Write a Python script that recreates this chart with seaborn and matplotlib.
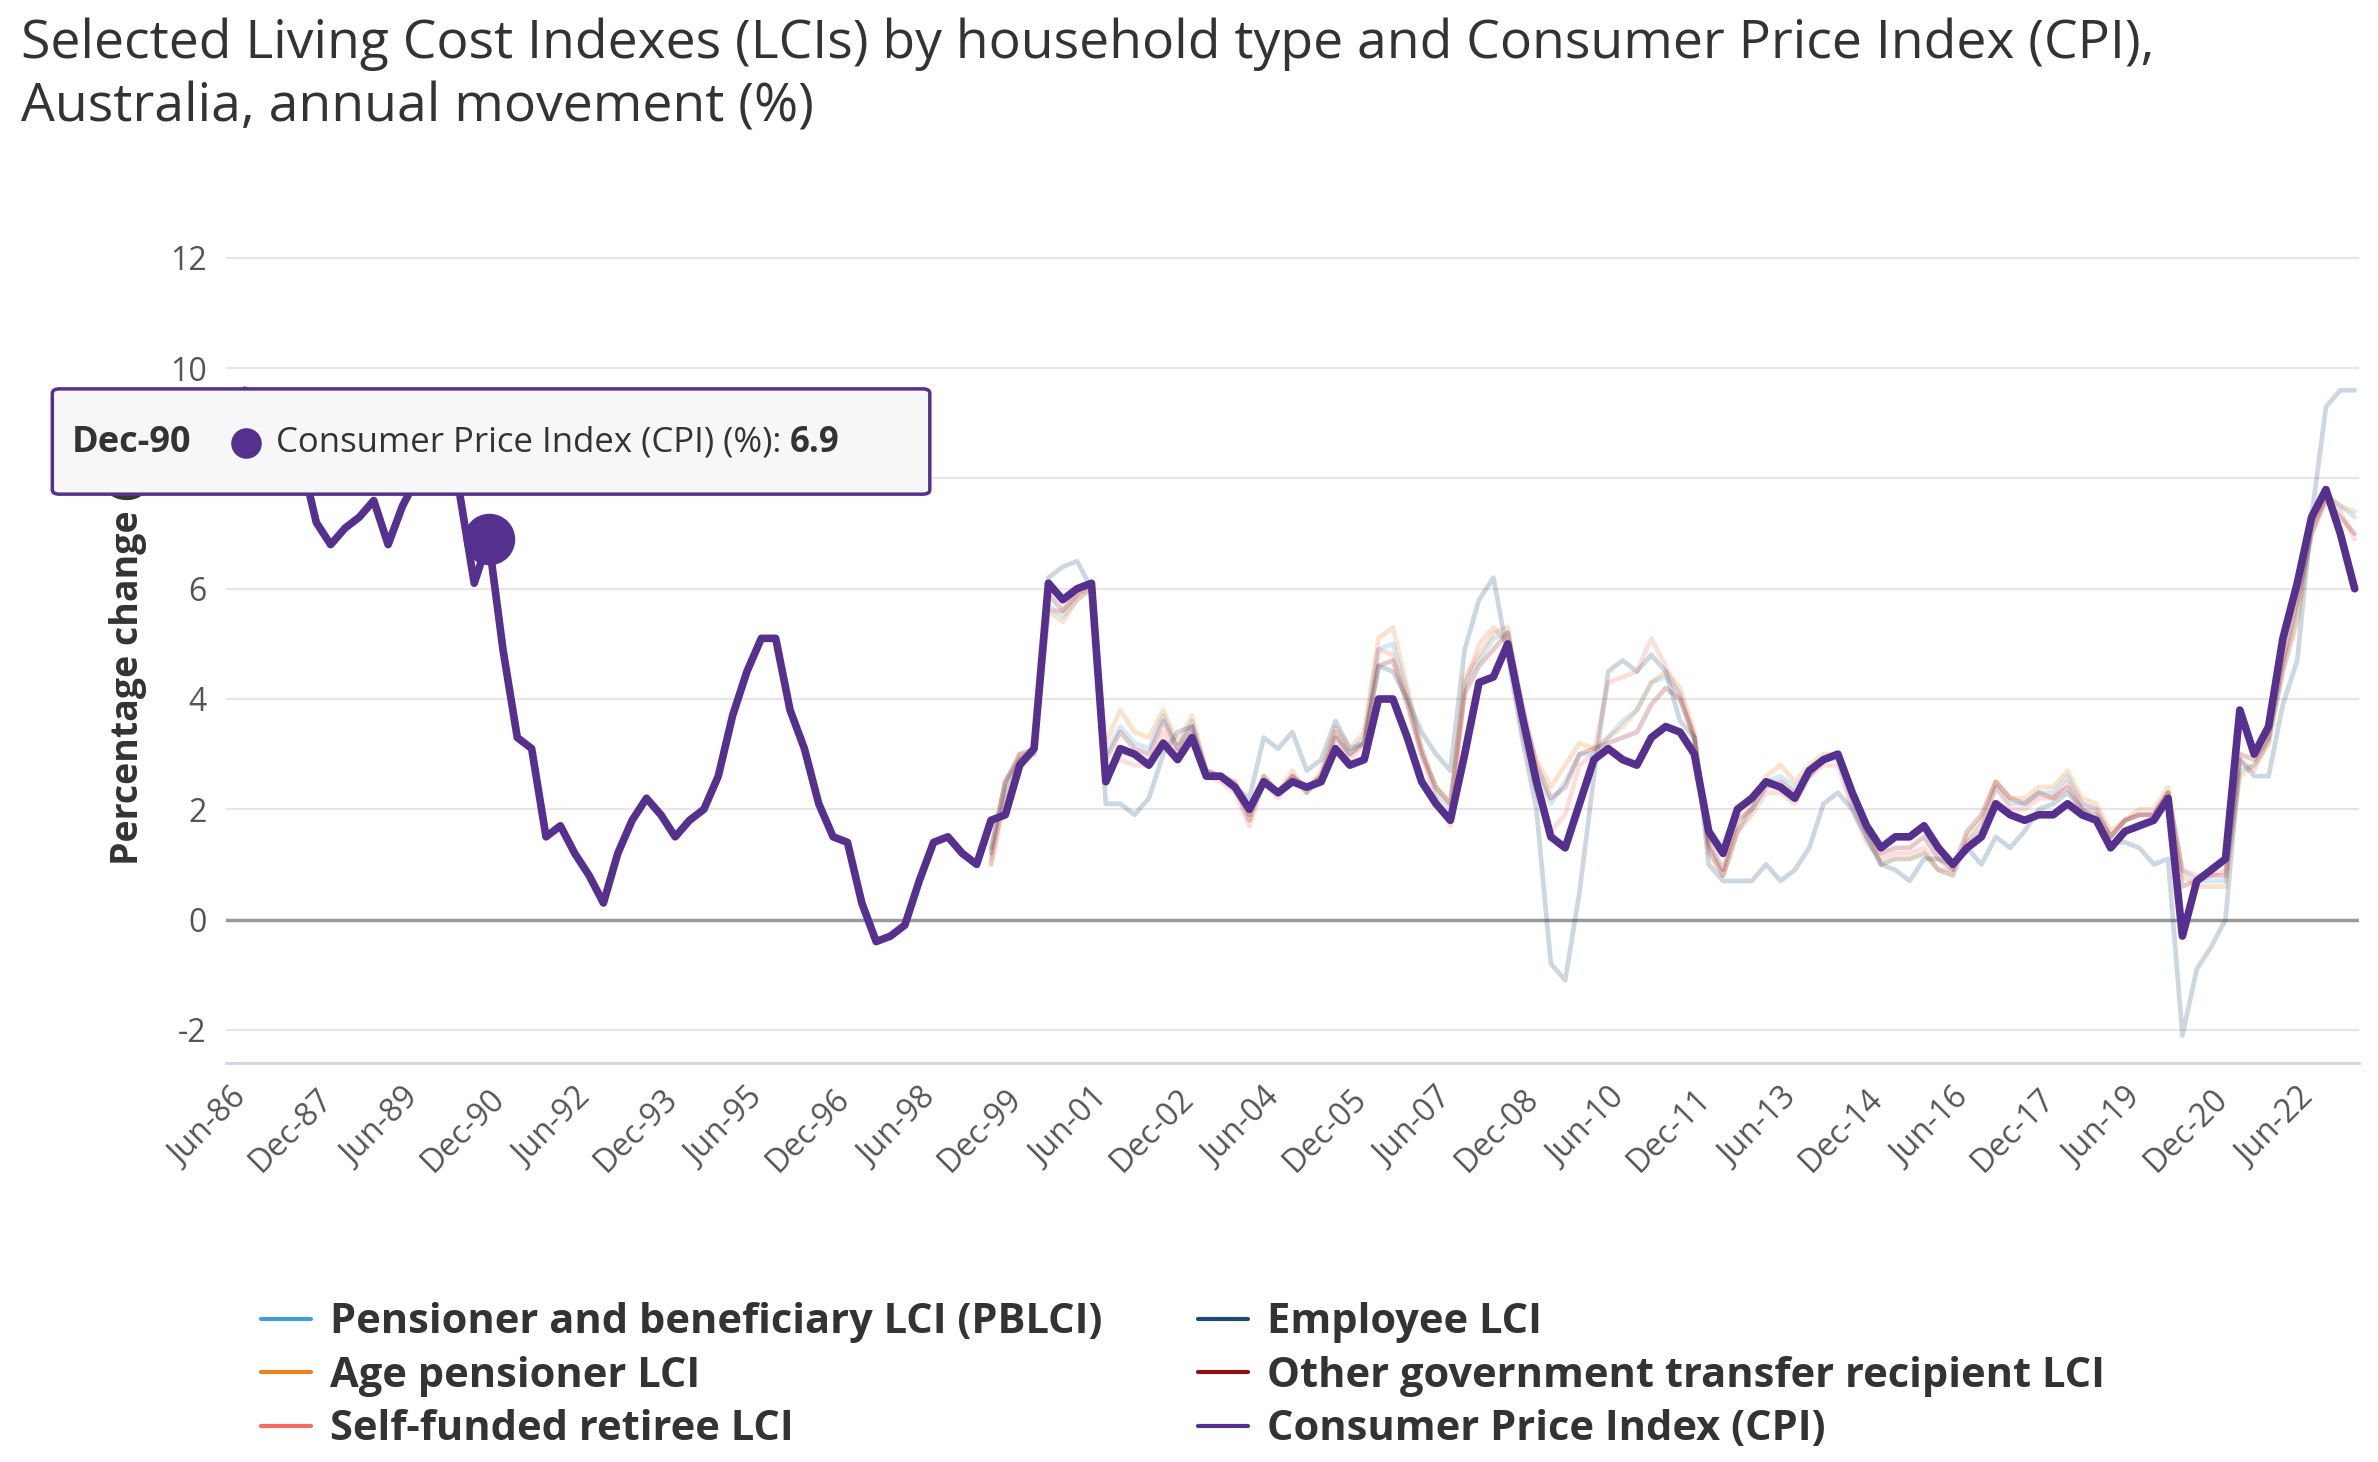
import matplotlib
matplotlib.use("Agg")
import matplotlib.pyplot as plt
import seaborn as sns
import pandas as pd
from matplotlib.lines import Line2D
from matplotlib.patches import FancyBboxPatch

# quarterly, Jun-86 .. Jun-23
cpi = [8.4, 9.6, 9.5,
       9.4, 9.3, 8.3, 7.2, 6.8, 7.1, 7.3, 7.6, 6.8, 7.5, 8.0, 7.8,
       8.6, 7.7, 6.1, 6.9, 4.9, 3.3, 3.1, 1.5, 1.7, 1.2, 0.8, 0.3,
       1.2, 1.8, 2.2, 1.9, 1.5, 1.8, 2.0, 2.6, 3.7, 4.5, 5.1, 5.1,
       3.8, 3.1, 2.1, 1.5, 1.4, 0.3, -0.4, -0.3, -0.1, 0.7, 1.4, 1.5,
       1.2, 1.0, 1.8, 1.9, 2.8, 3.1, 6.1, 5.8, 6.0, 6.1, 2.5, 3.1,
       3.0, 2.8, 3.2, 2.9, 3.3, 2.6, 2.6, 2.4, 2.0, 2.5, 2.3, 2.5,
       2.4, 2.5, 3.1, 2.8, 2.9, 4.0, 4.0, 3.3, 2.5, 2.1, 1.8, 3.0,
       4.3, 4.4, 5.0, 3.7, 2.5, 1.5, 1.3, 2.1, 2.9, 3.1, 2.9, 2.8,
       3.3, 3.5, 3.4, 3.0, 1.6, 1.2, 2.0, 2.2, 2.5, 2.4, 2.2, 2.7,
       2.9, 3.0, 2.3, 1.7, 1.3, 1.5, 1.5, 1.7, 1.3, 1.0, 1.3, 1.5,
       2.1, 1.9, 1.8, 1.9, 1.9, 2.1, 1.9, 1.8, 1.3, 1.6, 1.7, 1.8,
       2.2, -0.3, 0.7, 0.9, 1.1, 3.8, 3.0, 3.5, 5.1, 6.1, 7.3, 7.8,
       7.0, 6.0]

# LCIs from Sep-99 .. Jun-23
lci_start = 53
employee = [1.3, 2.5, 2.9, 3.1, 6.2, 6.4, 6.5, 6.0, 2.1, 2.1, 1.9, 2.2,
            3.0, 3.4, 3.5, 2.6, 2.6, 2.4, 2.2, 3.3, 3.1, 3.4, 2.7, 2.9,
            3.6, 3.1, 3.2, 4.6, 4.5, 4.0, 3.4, 3.0, 2.7, 4.9, 5.8, 6.2,
            4.8, 3.3, 2.0, -0.8, -1.1, 0.5, 2.6, 4.5, 4.7, 4.5, 4.8, 4.5,
            3.6, 3.3, 1.0, 0.7, 0.7, 0.7, 1.0, 0.7, 0.9, 1.3, 2.1, 2.3,
            2.0, 1.5, 1.0, 0.9, 0.7, 1.1, 1.1, 1.0, 1.3, 1.0, 1.5, 1.3,
            1.6, 2.0, 2.1, 2.3, 2.0, 1.8, 1.4, 1.4, 1.3, 1.0, 1.1, -2.1,
            -0.9, -0.5, 0.0, 2.9, 2.6, 2.6, 3.9, 4.7, 7.3, 9.3, 9.6, 9.6]
age_pensioner = [1.0, 2.4, 3.0, 3.0, 5.6, 5.4, 5.8, 6.0, 3.2, 3.8, 3.4, 3.3,
                 3.8, 3.2, 3.7, 2.7, 2.6, 2.4, 1.8, 2.6, 2.3, 2.7, 2.3, 2.7,
                 3.5, 3.1, 3.4, 5.1, 5.3, 4.2, 3.1, 2.4, 2.1, 4.4, 4.8, 5.2,
                 5.3, 3.7, 2.9, 2.4, 2.8, 3.2, 3.1, 3.3, 3.5, 3.8, 4.3, 4.5,
                 4.2, 3.4, 1.3, 0.8, 1.6, 2.1, 2.6, 2.8, 2.5, 2.8, 3.0, 3.0,
                 2.2, 1.6, 1.0, 1.1, 1.1, 1.2, 0.9, 0.8, 1.5, 1.8, 2.5, 2.2,
                 2.2, 2.4, 2.4, 2.7, 2.2, 2.1, 1.6, 1.8, 2.0, 2.0, 2.4, 0.8,
                 0.6, 0.6, 0.6, 2.6, 2.8, 3.2, 4.5, 5.4, 7.0, 7.7, 7.5, 7.4]
self_funded = [1.0, 2.2, 2.8, 3.0, 5.6, 5.6, 5.9, 6.0, 2.7, 2.9, 2.8, 2.8,
               3.4, 3.0, 3.4, 2.6, 2.5, 2.3, 1.7, 2.5, 2.2, 2.6, 2.3, 2.6,
               3.4, 2.9, 3.2, 4.9, 4.8, 4.0, 3.0, 2.2, 1.7, 4.2, 5.0, 5.3,
               5.0, 3.4, 2.3, 1.6, 1.9, 2.8, 3.0, 4.3, 4.4, 4.5, 5.1, 4.6,
               4.0, 3.3, 1.2, 0.8, 1.6, 1.9, 2.3, 2.3, 2.1, 2.6, 2.8, 2.8,
               2.0, 1.4, 1.1, 1.2, 1.2, 1.3, 0.9, 0.9, 1.4, 1.6, 2.4, 2.0,
               2.0, 2.2, 2.2, 2.5, 2.1, 2.0, 1.5, 1.8, 1.9, 1.9, 2.3, 0.9,
               0.8, 0.8, 0.9, 2.9, 2.7, 3.3, 4.6, 5.7, 7.2, 7.6, 7.4, 6.9]
pblci = [1.1, 2.3, 2.9, 3.0, 5.7, 5.5, 5.8, 6.0, 3.0, 3.5, 3.2, 3.1,
         3.7, 3.1, 3.6, 2.7, 2.6, 2.4, 1.8, 2.5, 2.3, 2.6, 2.3, 2.6,
         3.4, 3.0, 3.3, 4.9, 5.0, 4.1, 3.1, 2.3, 2.0, 4.3, 4.7, 5.1,
         5.2, 3.6, 2.7, 2.1, 2.5, 3.0, 3.0, 3.3, 3.6, 3.8, 4.3, 4.4,
         4.1, 3.3, 1.3, 0.8, 1.6, 2.0, 2.5, 2.6, 2.4, 2.7, 2.9, 2.9,
         2.1, 1.5, 1.0, 1.1, 1.1, 1.2, 0.9, 0.8, 1.4, 1.7, 2.4, 2.1,
         2.1, 2.3, 2.3, 2.6, 2.1, 2.0, 1.5, 1.8, 1.9, 1.9, 2.3, 0.9,
         0.7, 0.7, 0.7, 2.7, 2.8, 3.2, 4.5, 5.5, 7.1, 7.7, 7.5, 7.3]
other_govt = [1.2, 2.5, 3.0, 3.1, 5.9, 5.6, 5.9, 6.1, 2.9, 3.4, 3.1, 3.0,
              3.6, 3.1, 3.5, 2.7, 2.6, 2.5, 1.9, 2.6, 2.3, 2.6, 2.4, 2.6,
              3.3, 3.0, 3.2, 4.6, 4.7, 3.9, 3.0, 2.4, 2.1, 4.1, 4.6, 4.9,
              5.2, 3.9, 2.8, 2.2, 2.4, 3.0, 3.1, 3.2, 3.3, 3.4, 3.9, 4.2,
              4.0, 3.3, 1.4, 0.9, 1.8, 2.0, 2.4, 2.5, 2.3, 2.6, 2.9, 3.0,
              2.3, 1.6, 1.2, 1.3, 1.3, 1.5, 1.1, 0.9, 1.6, 1.9, 2.5, 2.2,
              2.1, 2.3, 2.2, 2.4, 2.0, 1.9, 1.5, 1.8, 1.9, 1.9, 2.3, 0.6,
              0.7, 0.8, 0.8, 3.0, 2.9, 3.3, 4.7, 5.8, 7.0, 7.6, 7.3, 7.0]

tick_labels = ["Jun-86", "Dec-87", "Jun-89", "Dec-90", "Jun-92", "Dec-93",
               "Jun-95", "Dec-96", "Jun-98", "Dec-99", "Jun-01", "Dec-02",
               "Jun-04", "Dec-05", "Jun-07", "Dec-08", "Jun-10", "Dec-11",
               "Jun-13", "Dec-14", "Jun-16", "Dec-17", "Jun-19", "Dec-20",
               "Jun-22"]

faded = [("Pensioner and beneficiary LCI (PBLCI)", pblci, "#3f9fd9"),
         ("Age pensioner LCI", age_pensioner, "#e8831f"),
         ("Self-funded retiree LCI", self_funded, "#f26b5b"),
         ("Employee LCI", employee, "#1f4b73"),
         ("Other government transfer recipient LCI", other_govt, "#8c1015")]
cpi_color = "#55308f"

sns.set_theme(style="white")
plt.rcParams['font.family'] = ['Open Sans', 'DejaVu Sans']

fig = plt.figure(figsize=(23.78, 14.62), dpi=100)
ax = fig.add_axes([0.095, 0.273, 0.897, 0.56])

for name, vals, col in faded:
    df = pd.DataFrame({"q": range(lci_start, lci_start + len(vals)), "v": vals})
    sns.lineplot(data=df, x="q", y="v", ax=ax, color=col, alpha=0.22,
                 linewidth=3.4, legend=False)
cpi_df = pd.DataFrame({"q": range(len(cpi)), "v": cpi})
sns.lineplot(data=cpi_df, x="q", y="v", ax=ax, color=cpi_color,
             linewidth=5.5, legend=False, zorder=5)
hover = cpi_df.iloc[18]
ax.scatter([hover.q], [hover.v], s=1300, color=cpi_color, zorder=6)

ax.set_xlim(-0.3, len(cpi) - 0.7)
ax.set_ylim(-2.6, 12.25)
ax.set_yticks(range(-2, 13, 2))
ax.set_yticklabels([str(v) for v in range(-2, 13, 2)])
ax.set_xticks(range(0, 145, 6))
ax.set_xticklabels(tick_labels, rotation=45, ha="right",
                   rotation_mode="anchor")
ax.tick_params(axis="both", labelsize=23, colors="#555555", length=0, pad=14)
ax.yaxis.grid(True, color="#e6e6e6", linewidth=1.5)
ax.axhline(0, color="#999999", linewidth=2.5, zorder=1)
for s in ["top", "left", "right"]:
    ax.spines[s].set_visible(False)
ax.spines["bottom"].set_color("#ccd6eb")
ax.spines["bottom"].set_linewidth(2)
ax.set_xlabel("")
ax.set_ylabel("Percentage change (%)", fontsize=27, fontweight="bold",
              color="#333333", labelpad=16)

fig.text(0.009, 0.988, "Selected Living Cost Indexes (LCIs) by household type and "
         "Consumer Price Index (CPI),\nAustralia, annual movement (%)",
         fontsize=38.5, color="#333333", va="top", ha="left", linespacing=1.25)

# tooltip
box = FancyBboxPatch((0.022, 0.662), 0.369, 0.072, transform=fig.transFigure,
                     boxstyle="round,pad=0,rounding_size=0.003",
                     facecolor="#f7f7f7", edgecolor=cpi_color, linewidth=2.5,
                     zorder=10)
fig.patches.append(box)
fig.text(0.030, 0.697, "Dec-90", fontsize=26, fontweight="bold",
         color="#333333", va="center", zorder=11)
label_txt = fig.text(0.116, 0.697, "Consumer Price Index (CPI) (%): ",
                     fontsize=25, color="#333333", va="center", zorder=11)
fig.canvas.draw()
bb = label_txt.get_window_extent().transformed(fig.transFigure.inverted())
fig.text(bb.x1, 0.697, "6.9", fontsize=25, fontweight="bold",
         color="#333333", va="center", zorder=11)
fig.lines.append(Line2D([0.1035], [0.697], marker="o", markersize=21,
                        color=cpi_color, transform=fig.transFigure, zorder=11))

handles = [Line2D([0], [0], color=c, linewidth=3) for _, _, c in faded]
labels = [n for n, _, _ in faded]
handles.append(Line2D([0], [0], color=cpi_color, linewidth=3))
labels.append("Consumer Price Index (CPI)")
fig.legend(handles, labels, ncol=2, loc="upper left",
           bbox_to_anchor=(0.094, 0.135), frameon=False,
           handlelength=1.2, handletextpad=0.45, columnspacing=2.3,
           labelspacing=0.3, prop={"weight": "bold", "size": 30})
for t in fig.legends[0].get_texts():
    t.set_color("#333333")

fig.savefig("out.png", dpi=100)
